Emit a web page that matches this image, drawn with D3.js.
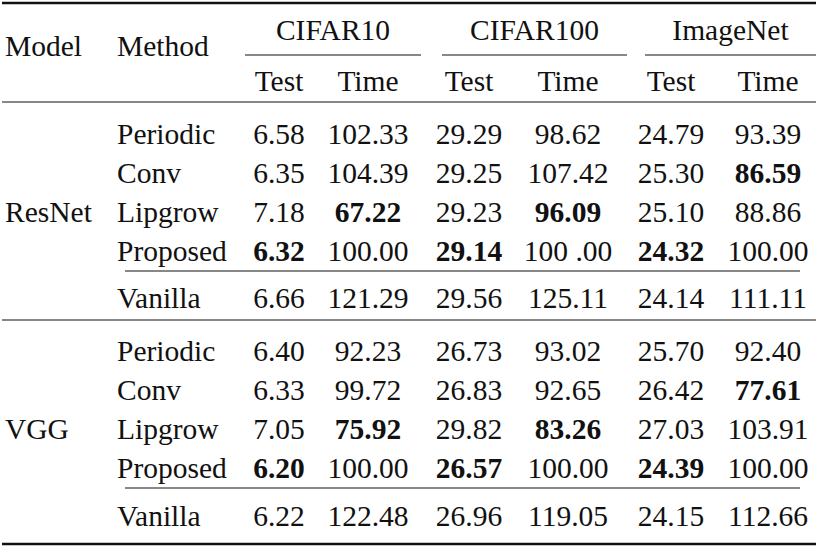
<!DOCTYPE html>
<html><head><meta charset="utf-8">
<script src="https://cdn.jsdelivr.net/npm/d3@7"></script>
<style>body{margin:0;background:#fff}text{font-family:"Liberation Serif","Times New Roman",serif;font-size:29.5px;fill:#111}</style>
</head><body><svg id="tbl" width="818" height="547"></svg>
<script>
var datasets = ["CIFAR10", "CIFAR100", "ImageNet"];
var subcols = ["Test", "Time"];
var models = ["ResNet", "VGG"];
var methods = ["Periodic", "Conv", "Lipgrow", "Proposed", "Vanilla"];
var resnetVals = [
  ["6.58", "102.33", "29.29", "98.62", "24.79", "93.39"],
  ["6.35", "104.39", "29.25", "107.42", "25.30", "86.59"],
  ["7.18", "67.22", "29.23", "96.09", "25.10", "88.86"],
  ["6.32", "100.00", "29.14", "100 .00", "24.32", "100.00"],
  ["6.66", "121.29", "29.56", "125.11", "24.14", "111.11"]
];
var vggVals = [
  ["6.40", "92.23", "26.73", "93.02", "25.70", "92.40"],
  ["6.33", "99.72", "26.83", "92.65", "26.42", "77.61"],
  ["7.05", "75.92", "29.82", "83.26", "27.03", "103.91"],
  ["6.20", "100.00", "26.57", "100.00", "24.39", "100.00"],
  ["6.22", "122.48", "26.96", "119.05", "24.15", "112.66"]
];
// [row, col] pairs in bold
var resnetBold = [[1, 5], [2, 1], [2, 3], [3, 0], [3, 2], [3, 4]];
var vggBold = [[1, 5], [2, 1], [2, 3], [3, 0], [3, 2], [3, 4]];

var svg = d3.select("#tbl");
var colX = d3.scaleOrdinal().domain(d3.range(6)).range([279, 368, 469, 568, 671, 768]);
var groupX = d3.scaleOrdinal().domain(datasets).range([[245, 421], [442, 627], [645, 816]]);
var rowY = d3.scaleLinear().domain([0, 3]).range([133, 250]);
var blockOffset = d3.scaleOrdinal().domain(models).range([0, 217]);
var vanillaY = d3.scaleOrdinal().domain(models).range([297, 515]);

var rule = function (x1, x2, y, w) {
  svg.append("line").attr("x1", x1).attr("x2", x2).attr("y1", y).attr("y2", y)
    .attr("stroke", "#111").attr("stroke-width", w);
};

rule(2, 816, 3, 2.5);
rule(2, 816, 102, 1.2);
rule(2, 816, 320, 1.2);
rule(2, 816, 544, 2.5);

svg.append("text").attr("x", 5).attr("y", 56).text("Model");
svg.append("text").attr("x", 117).attr("y", 56).text("Method");

datasets.forEach(function (d) {
  var r = groupX(d);
  svg.append("text").attr("x", (r[0] + r[1]) / 2).attr("y", 40).attr("text-anchor", "middle").text(d);
  rule(r[0], r[1], 55, 1.2);
});
d3.range(6).forEach(function (i) {
  svg.append("text").attr("x", colX(i)).attr("y", 91).attr("text-anchor", "middle").text(subcols[i % 2]);
});

var drawBlock = function (model, vals, bold) {
  var off = blockOffset(model);
  var ys = methods.map(function (m, i) { return i < 4 ? rowY(i) + off : vanillaY(model); });
  svg.append("text").attr("x", 5).attr("y", ys[2] + 11).text(model);
  rule(125, 800, off + 271, 1);
  methods.forEach(function (m, i) {
    svg.append("text").attr("x", 117).attr("y", ys[i] + 11).text(m);
    vals[i].forEach(function (v, j) {
      var isBold = bold.some(function (b) { return b[0] == i && b[1] == j; });
      svg.append("text").attr("x", colX(j)).attr("y", ys[i] + 11)
        .attr("text-anchor", "middle").attr("font-weight", isBold ? "bold" : "normal").text(v);
    });
  });
};
drawBlock("ResNet", resnetVals, resnetBold);
drawBlock("VGG", vggVals, vggBold);
</script></body></html>
